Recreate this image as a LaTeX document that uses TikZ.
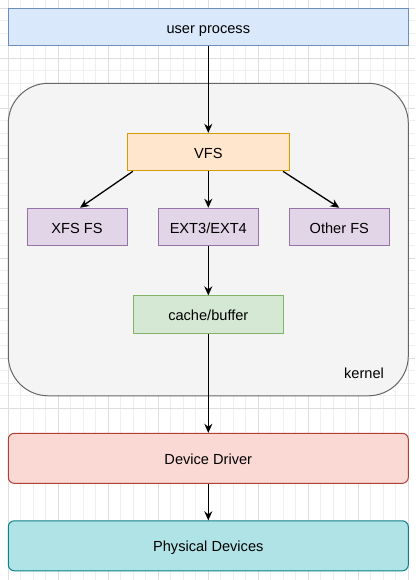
\documentclass[tikz,border=0pt]{standalone}
\usepackage{fontspec}
\setmainfont{Liberation Sans}
\usetikzlibrary{arrows.meta}

\definecolor{dae8fc}{HTML}{DAE8FC}
\definecolor{6c8ebf}{HTML}{6C8EBF}
\definecolor{f5f5f5}{HTML}{F4F4F4}
\definecolor{666666}{HTML}{666666}
\definecolor{ffe6cc}{HTML}{FFE6CC}
\definecolor{d79b00}{HTML}{D79B00}
\definecolor{e1d5e7}{HTML}{E1D5E7}
\definecolor{9673a6}{HTML}{9673A6}
\definecolor{d5e8d4}{HTML}{D5E8D4}
\definecolor{82b366}{HTML}{82B366}
\definecolor{fad9d5}{HTML}{FAD9D5}
\definecolor{ae4132}{HTML}{AE4132}
\definecolor{b0e3e6}{HTML}{B0E3E6}
\definecolor{0e8088}{HTML}{0E8088}
\definecolor{gridminor}{HTML}{EFEFEF}
\definecolor{gridmajor}{HTML}{DEDEDE}

\tikzset{
  label text/.style={font=\fontsize{14.6}{17}\selectfont, text height=15pt, text depth=3pt},
  box/.style={draw, line width=1pt, minimum height=37.5pt, inner sep=0pt, label text},
  flow/.style={->, line width=1.3pt, black}
}

\begin{document}
\begin{tikzpicture}[x=1pt, y=-1pt, >={Stealth[length=9pt,width=8pt]}]
        \useasboundingbox (0, 0) rectangle (415, 580);
        \fill[white] (0, 0) rectangle (415, 580);

        % grid
        \foreach \t in {8.33, 20.83, ..., 415}
        {
        \draw[gridminor, line width=0.8pt] (\t, 0) -- (\t, 580);
        \draw[gridminor, line width=0.8pt] (0, \t) -- (415, \t);
        }
        \foreach \t in {8.33, 58.33, ..., 415}
        {
        \draw[gridmajor, line width=0.8pt] (\t, 0) -- (\t, 580);
        \draw[gridmajor, line width=0.8pt] (0, \t) -- (415, \t);
        }

        % kernel
        \draw[666666, fill=f5f5f5, line width=1pt, rounded corners=40pt] (8.3, 83.3) rectangle (408.3, 395.8);
        \node[label text, inner sep=0pt] (kernel) at (364, 372) {kernel};

        \node[box, fill=dae8fc, draw=6c8ebf, minimum width=400pt] (user) at (208.3, 27.1) {user process};
        \node[box, fill=ffe6cc, draw=d79b00, minimum width=162.5pt] (vfs) at (208.3, 152.1) {VFS};

        \node[box, fill=e1d5e7, draw=9673a6, minimum width=100pt] (xfs) at (77, 227) {XFS FS};
        \node[box, fill=e1d5e7, draw=9673a6, minimum width=100pt] (ext) at (208.3, 227) {EXT3/EXT4};
        \node[box, fill=e1d5e7, draw=9673a6, minimum width=100pt] (other) at (339.3, 227) {Other FS};

        \node[box, fill=d5e8d4, draw=82b366, minimum width=150pt] (cache) at (208.3, 314.6) {cache/buffer};

        \node[box, fill=fad9d5, draw=ae4132, minimum width=400pt, minimum height=50pt, rounded corners=6pt] (driver) at (208.3, 458.3) {Device Driver};
        \node[box, fill=b0e3e6, draw=0e8088, minimum width=400pt, minimum height=50pt, rounded corners=6pt] (phys) at (208.3, 545.8) {Physical Devices};

        \draw[flow] (user) -- (vfs);
        \draw[flow] ([xshift=6.3pt]vfs.south west) -- ([xshift=3pt]xfs.north);
        \draw[flow] (vfs) -- (ext);
        \draw[flow] ([xshift=-7pt]vfs.south east) -- (other.north);
        \draw[flow] (ext) -- (cache);
        \draw[flow] (cache) -- (driver);
        \draw[flow] (driver) -- (phys);
\end{tikzpicture}
\end{document}
